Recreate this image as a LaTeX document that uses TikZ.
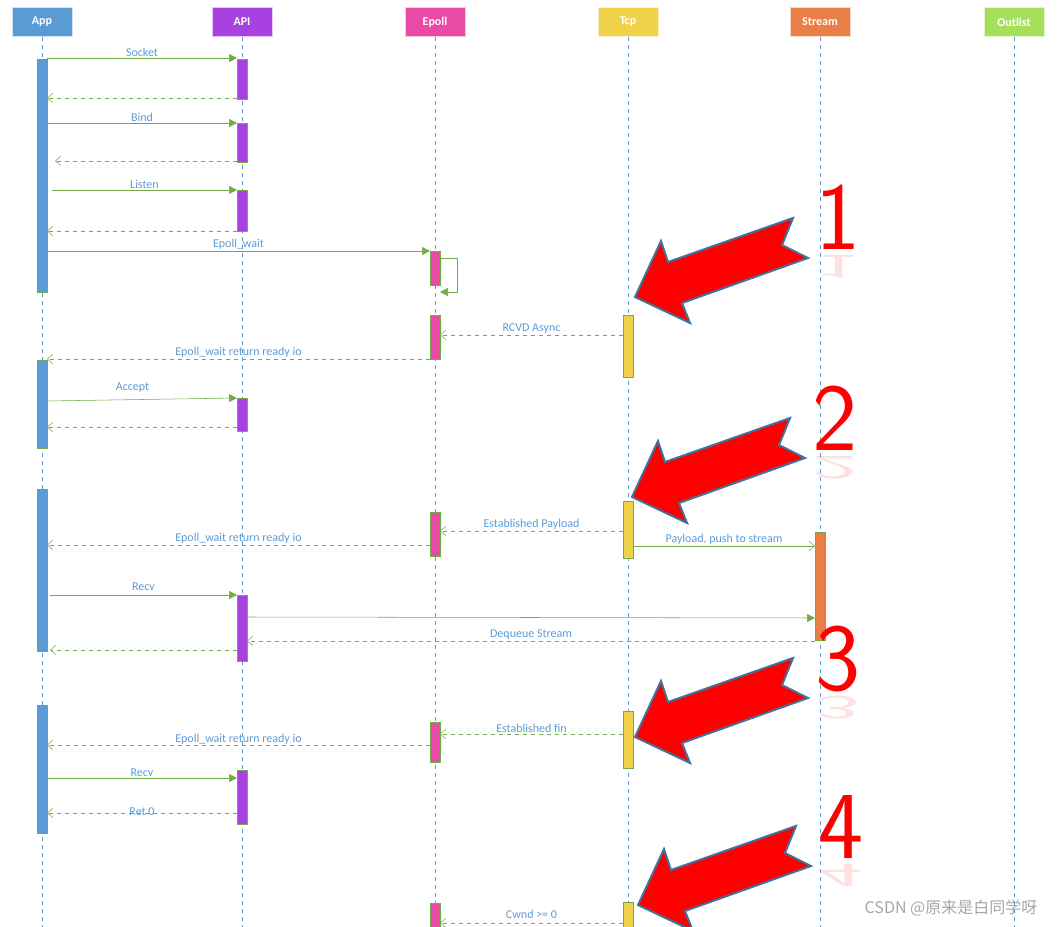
\documentclass[tikz,border=0pt]{standalone}
\usepackage{fontspec}
\setmainfont{Carlito}
\newfontfamily\cjk{Noto Sans CJK SC}
\usetikzlibrary{arrows.meta}
\definecolor{cApp}{HTML}{5B9BD5}
\definecolor{cApi}{HTML}{A940E0}
\definecolor{cEp}{HTML}{E84AA5}
\definecolor{cTcp}{HTML}{EFD14A}
\definecolor{cSt}{HTML}{E97E47}
\definecolor{cOut}{HTML}{A6E05A}
\definecolor{gr}{HTML}{70AD47}
\definecolor{lb}{HTML}{5B9BD5}
\definecolor{abd}{HTML}{41719C}
\begin{document}
\begin{tikzpicture}[x=0.75pt,y=-0.75pt,
 head/.style={minimum width=45pt,minimum height=22pt,inner sep=0,text=white,font=\bfseries\fontsize{9}{10}\selectfont,draw=white!70!#1,fill=#1},
 life/.style={draw=lb,dashed,thin},
 act/.style={draw=gr,fill=#1},
 msg/.style={draw=gr,-{Triangle[fill=gr,length=6pt,width=6pt]}},
 ret/.style={draw=gr,dashed,-{Straight Barb[length=4pt,width=7pt]}},
 lab/.style={text=lb,font=\fontsize{9}{10}\selectfont,inner sep=1pt},
 bigarrow/.style={fill=red,draw=abd,line width=1.5pt,line join=miter},
 num/.style={text=red,font=\sffamily\fontsize{72}{72}\selectfont,inner sep=0}]
\useasboundingbox (0,0) rectangle (1057,927);
% heads
\foreach \n/\x/\c/\t in {app/42/cApp/App,api/242/cApi/API,ep/435/cEp/Epoll,tcp/628/cTcp/Tcp,st/820/cSt/Stream,out/1014/cOut/Outlist}{
  \node[head=\c] (\n) at (\x,22) {\t};
  \coordinate (\n end) at (\x,927);
  \draw[life] (\n.south) -- (\n end);
}
% activations
\foreach \a/\b in {59/292,360/448,489/651,705/833}{\draw[act=cApp] (37,\a) rectangle (47,\b);}
\foreach \a/\b in {59/99,123/162,190/231,398/431,595/661,770/824}{\draw[act=cApi] (237,\a) rectangle (247,\b);}
\foreach \a/\b in {251/285,315/359,512/556,722/762,903/930}{\draw[act=cEp] (430,\a) rectangle (440,\b);}
\foreach \a/\b in {315/377,501/558,711/768,902/930}{\draw[act=cTcp] (623,\a) rectangle (633,\b);}
\draw[act=cSt] (815,532) rectangle (825,640);
% coordinates helper
\newcommand\msgA[5]{\coordinate (s#5) at (#1,#3); \coordinate (e#5) at (#2,#3);}
% messages
\coordinate (a1) at (47,58); \coordinate (b1) at (237,58);
\draw[msg] (a1) -- node[lab,above]{Socket} (b1);
\coordinate (a2) at (237,98); \coordinate (b2) at (47,98); \draw[ret] (a2) -- (b2);
\coordinate (a3) at (47,123); \coordinate (b3) at (237,123);
\draw[msg] (a3) -- node[lab,above]{Bind} (b3);
\coordinate (a4) at (237,161); \coordinate (b4) at (55,161); \draw[ret] (a4) -- (b4);
\coordinate (a5) at (52,190); \coordinate (b5) at (237,190);
\draw[msg] (a5) -- node[lab,above]{Listen} (b5);
\coordinate (a6) at (237,231); \coordinate (b6) at (47,231); \draw[ret] (a6) -- (b6);
\coordinate (a7) at (47,251); \coordinate (b7) at (430,251);
\draw[msg] (a7) -- node[lab,above]{Epoll\_wait} (b7);
\coordinate (a8) at (440,258); \coordinate (b8) at (440,292);
\draw[msg] (a8) -- ++(17,0) |- (b8);
\coordinate (a9) at (623,335); \coordinate (b9) at (440,335);
\draw[ret] (a9) -- node[lab,above]{RCVD Async} (b9);
\coordinate (a10) at (430,359); \coordinate (b10) at (47,359);
\draw[ret] (a10) -- node[lab,above]{Epoll\_wait return ready io} (b10);
\coordinate (a11) at (47,401); \coordinate (b11) at (237,398);
\draw[msg] (a11) -- node[lab,above,pos=0.45,yshift=4pt]{Accept} (b11);
\coordinate (a12) at (237,427); \coordinate (b12) at (47,427); \draw[ret] (a12) -- (b12);
\coordinate (a13) at (623,531); \coordinate (b13) at (440,531);
\draw[ret] (a13) -- node[lab,above]{Established Payload} (b13);
\coordinate (a14) at (430,545); \coordinate (b14) at (47,545);
\draw[ret] (a14) -- node[lab,above]{Epoll\_wait return ready io} (b14);
\coordinate (a15) at (633,546); \coordinate (b15) at (815,546);
\draw[draw=gr,-{Straight Barb[length=4pt,width=7pt]}] (a15) -- node[lab,above]{Payload, push to stream} (b15);
\coordinate (a16) at (50,595); \coordinate (b16) at (237,595);
\draw[msg] (a16) -- node[lab,above,yshift=2pt]{Recv} (b16);
\coordinate (a17) at (247,617); \coordinate (b17) at (815,618);
\draw[msg] (a17) -- (b17);
\coordinate (a18) at (815,641); \coordinate (b18) at (247,641);
\draw[ret] (a18) -- node[lab,above]{Dequeue Stream} (b18);
\coordinate (a19) at (237,650); \coordinate (b19) at (50,650); \draw[ret] (a19) -- (b19);
\coordinate (a20) at (623,734); \coordinate (b20) at (440,734);
\draw[ret] (a20) -- node[lab,above]{Established fin} (b20);
\coordinate (a21) at (430,745); \coordinate (b21) at (47,745);
\draw[ret] (a21) -- node[lab,above,yshift=-1pt]{Epoll\_wait return ready io} (b21);
\coordinate (a22) at (47,778); \coordinate (b22) at (237,778);
\draw[msg] (a22) -- node[lab,above]{Recv} (b22);
\coordinate (a23) at (237,813); \coordinate (b23) at (47,813);
\draw[ret] (a23) -- node[lab,above,yshift=-3pt]{Ret 0} (b23);
\coordinate (a24) at (623,923); \coordinate (b24) at (440,923);
\draw[ret] (a24) -- node[lab,above,yshift=2pt]{Cwnd >= 0} (b24);
% big arrows
\foreach \dx/\dy/\k in {0/0/1,-3/200/2,0/440/3,3/608/4}{
  \begin{scope}[shift={(\dx,\dy)}]
  \draw[bigarrow] (635,297) -- (661,241) -- (668,262) -- (793,218) -- (782,245) -- (808,258) -- (682,303) -- (690,323) -- cycle;
  \node[num,anchor=base] (n\k) at (838,250) {\k};
  \node[num,anchor=base,yscale=-0.35,opacity=0.12] (r\k) at (838,256) {\k};
  \end{scope}
}
\node[text=gray!70,font=\cjk\fontsize{12}{12}\selectfont,anchor=east] (wm) at (1042,908) {CSDN @原来是白同学呀};
\end{tikzpicture}
\end{document}
